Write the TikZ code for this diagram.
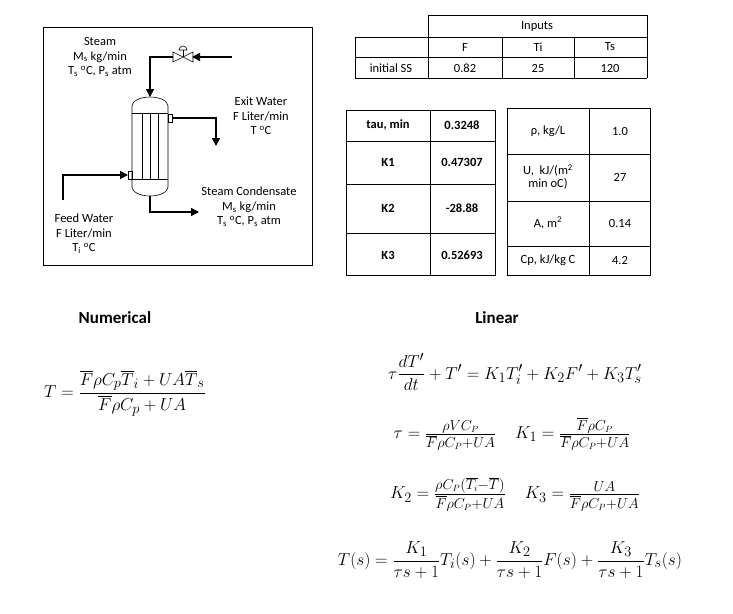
\documentclass[tikz,border=0pt]{standalone}
\usepackage{fontspec}
\setmainfont{Carlito}
\usepackage{amsmath}
\usetikzlibrary{arrows.meta}
\begin{document}
\begin{tikzpicture}[x=1pt,y=-1pt,
  pipe/.style={line width=1.6pt},
  arr/.style={pipe,-{Triangle[length=8pt,width=8pt]}},
  lbl/.style={font=\fontsize{12.5}{13.5}\selectfont,align=center,inner sep=0pt},
  cell/.style={font=\fontsize{12.5}{13.5}\selectfont,align=center,inner sep=0pt},
  bcell/.style={cell,font=\fontsize{12.5}{13.5}\selectfont\bfseries},
  eq/.style={inner sep=0pt,font=\fontsize{19}{21}\selectfont},
  tline/.style={line width=0.8pt}]
\useasboundingbox (0,0) rectangle (733,613);
% frame
\draw[line width=0.8pt] (43,27) rectangle (312,265);
% vessel
\draw[line width=0.6pt] (132,106) arc[start angle=180,end angle=0,x radius=18,y radius=-9] -- (168,187) arc[start angle=0,end angle=-180,x radius=18,y radius=-9] -- cycle;
\draw[line width=0.6pt] (132,113) -- (168,113) (132,179) -- (168,179);
\foreach \xx in {142,150,158} \draw[line width=0.6pt] (\xx,113) -- (\xx,179);
\draw[line width=0.6pt] (168,114) rectangle (172,122);
\draw[line width=0.6pt] (128,171) rectangle (132,179);
\coordinate (vtop) at (150,97);
% steam inlet
\coordinate (sin) at (232,57);
\coordinate (vr) at (192,57);
\coordinate (vl) at (173,57);
\draw[arr] (sin) -- (vr);
\draw[line width=0.6pt] (173,52) -- (193,62) -- (193,52) -- (173,62) -- cycle;
\draw[line width=0.6pt] (183,57) -- (183,50);
\draw[line width=0.6pt] (179,50) arc[start angle=180,end angle=360,radius=4] -- cycle;
\draw[arr] (vl) -- (150,57) -- (vtop);
% exit water
\coordinate (ew) at (216,146);
\draw[arr] (172,118) -- (216,118) -- (ew);
% feed
\coordinate (fin) at (63,200);
\draw[arr] (fin) -- (63,175) -- (128,175);
% condensate
\coordinate (cout) at (199,212);
\draw[arr] (150,196) -- (150,212) -- (cout);
% labels
\node[lbl] (ls) at (100,57) {Steam\\[1pt] M\textsubscript{s} kg/min\\[1pt] T\textsubscript{s} \textsuperscript{o}C, P\textsubscript{s} atm};
\node[lbl] (le) at (261,116) {Exit Water\\[1pt] F Liter/min\\[1pt] T \textsuperscript{o}C};
\node[lbl] (lc) at (249,207) {Steam Condensate\\[1pt] M\textsubscript{s} kg/min\\[1pt] T\textsubscript{s} \textsuperscript{o}C, P\textsubscript{s} atm};
\node[lbl] (lf) at (84,234) {Feed Water\\[1pt] F Liter/min\\[1pt] T\textsubscript{i} \textsuperscript{o}C};
% inputs table
\draw[tline] (428,15) -- (647,15) (355,37) -- (647,37) (355,57) -- (647,57) (355,78) -- (647,78);
\draw[tline] (355,37) -- (355,78) (428,15) -- (428,78) (647,15) -- (647,78) (502,37) -- (502,78) (574,37) -- (574,78);
\node[cell] (ti) at (537,26) {Inputs};
\node[cell] (tf) at (465,47) {F};
\node[cell] (tti) at (538,47) {Ti};
\node[cell] (tts) at (610,47) {Ts};
\node[cell] (tss) at (391,68) {initial SS};
\node[cell] (v1) at (465,68) {0.82};
\node[cell] (v2) at (538,68) {25};
\node[cell] (v3) at (610,68) {120};
% K table
\draw[tline] (346,110) rectangle (495,275);
\draw[tline] (430,110) -- (430,275);
\foreach \yy in {141,184,233} \draw[tline] (346,\yy) -- (495,\yy);
\node[bcell] (k0) at (388,125) {tau, min};
\node[bcell] (k0v) at (462,125) {0.3248};
\node[bcell] (k1) at (388,162) {K1};
\node[bcell] (k1v) at (462,162) {0.47307};
\node[bcell] (k2) at (388,208) {K2};
\node[bcell] (k2v) at (462,208) {-28.88};
\node[bcell] (k3) at (388,255) {K3};
\node[bcell] (k3v) at (462,255) {0.52693};
% param table
\draw[tline] (507,108) rectangle (650,275);
\draw[tline] (589,108) -- (589,275);
\foreach \yy in {154,201,246} \draw[tline] (507,\yy) -- (650,\yy);
\node[cell] (p0) at (548,131) {ρ, kg/L};
\node[cell] (p0v) at (620,131) {1.0};
\node[cell] (p1) at (548,177) {U,\ \ kJ/(m\textsuperscript{2}\\ min oC)};
\node[cell] (p1v) at (620,177) {27};
\node[cell] (p2) at (548,223) {A, m\textsuperscript{2}};
\node[cell] (p2v) at (620,223) {0.14};
\node[cell] (p3) at (548,260) {Cp, kJ/kg C};
\node[cell] (p3v) at (620,260) {4.2};
% headings
\node[font=\fontsize{17}{19}\selectfont\bfseries] (hn) at (115,318) {Numerical};
\node[font=\fontsize{17}{19}\selectfont\bfseries] (hl) at (497,318) {Linear};
% equations
\node[eq] (e1) at (125,393) {$T=\dfrac{\overline{F}\rho C_p\overline{T}_i+UA\overline{T}_s}{\overline{F}\rho C_p+UA}$};
\node[eq] (e2) at (515,372) {$\tau\dfrac{dT'}{dt}+T'=K_1T_i'+K_2F'+K_3T_s'$};
\node[eq] (e3) at (512,434) {$\tau=\frac{\rho V C_P}{\overline{F}\rho C_P+UA}\quad K_1=\frac{\overline{F}\rho C_P}{\overline{F}\rho C_P+UA}$};
\node[eq] (e4) at (515,494) {$K_2=\frac{\rho C_P(\overline{T_i}-\overline{T})}{\overline{F}\rho C_P+UA}\quad K_3=\frac{UA}{\overline{F}\rho C_P+UA}$};
\node[eq] (e5) at (510,560) {$T(s)=\dfrac{K_1}{\tau s+1}T_i(s)+\dfrac{K_2}{\tau s+1}F(s)+\dfrac{K_3}{\tau s+1}T_s(s)$};
\end{tikzpicture}
\end{document}
